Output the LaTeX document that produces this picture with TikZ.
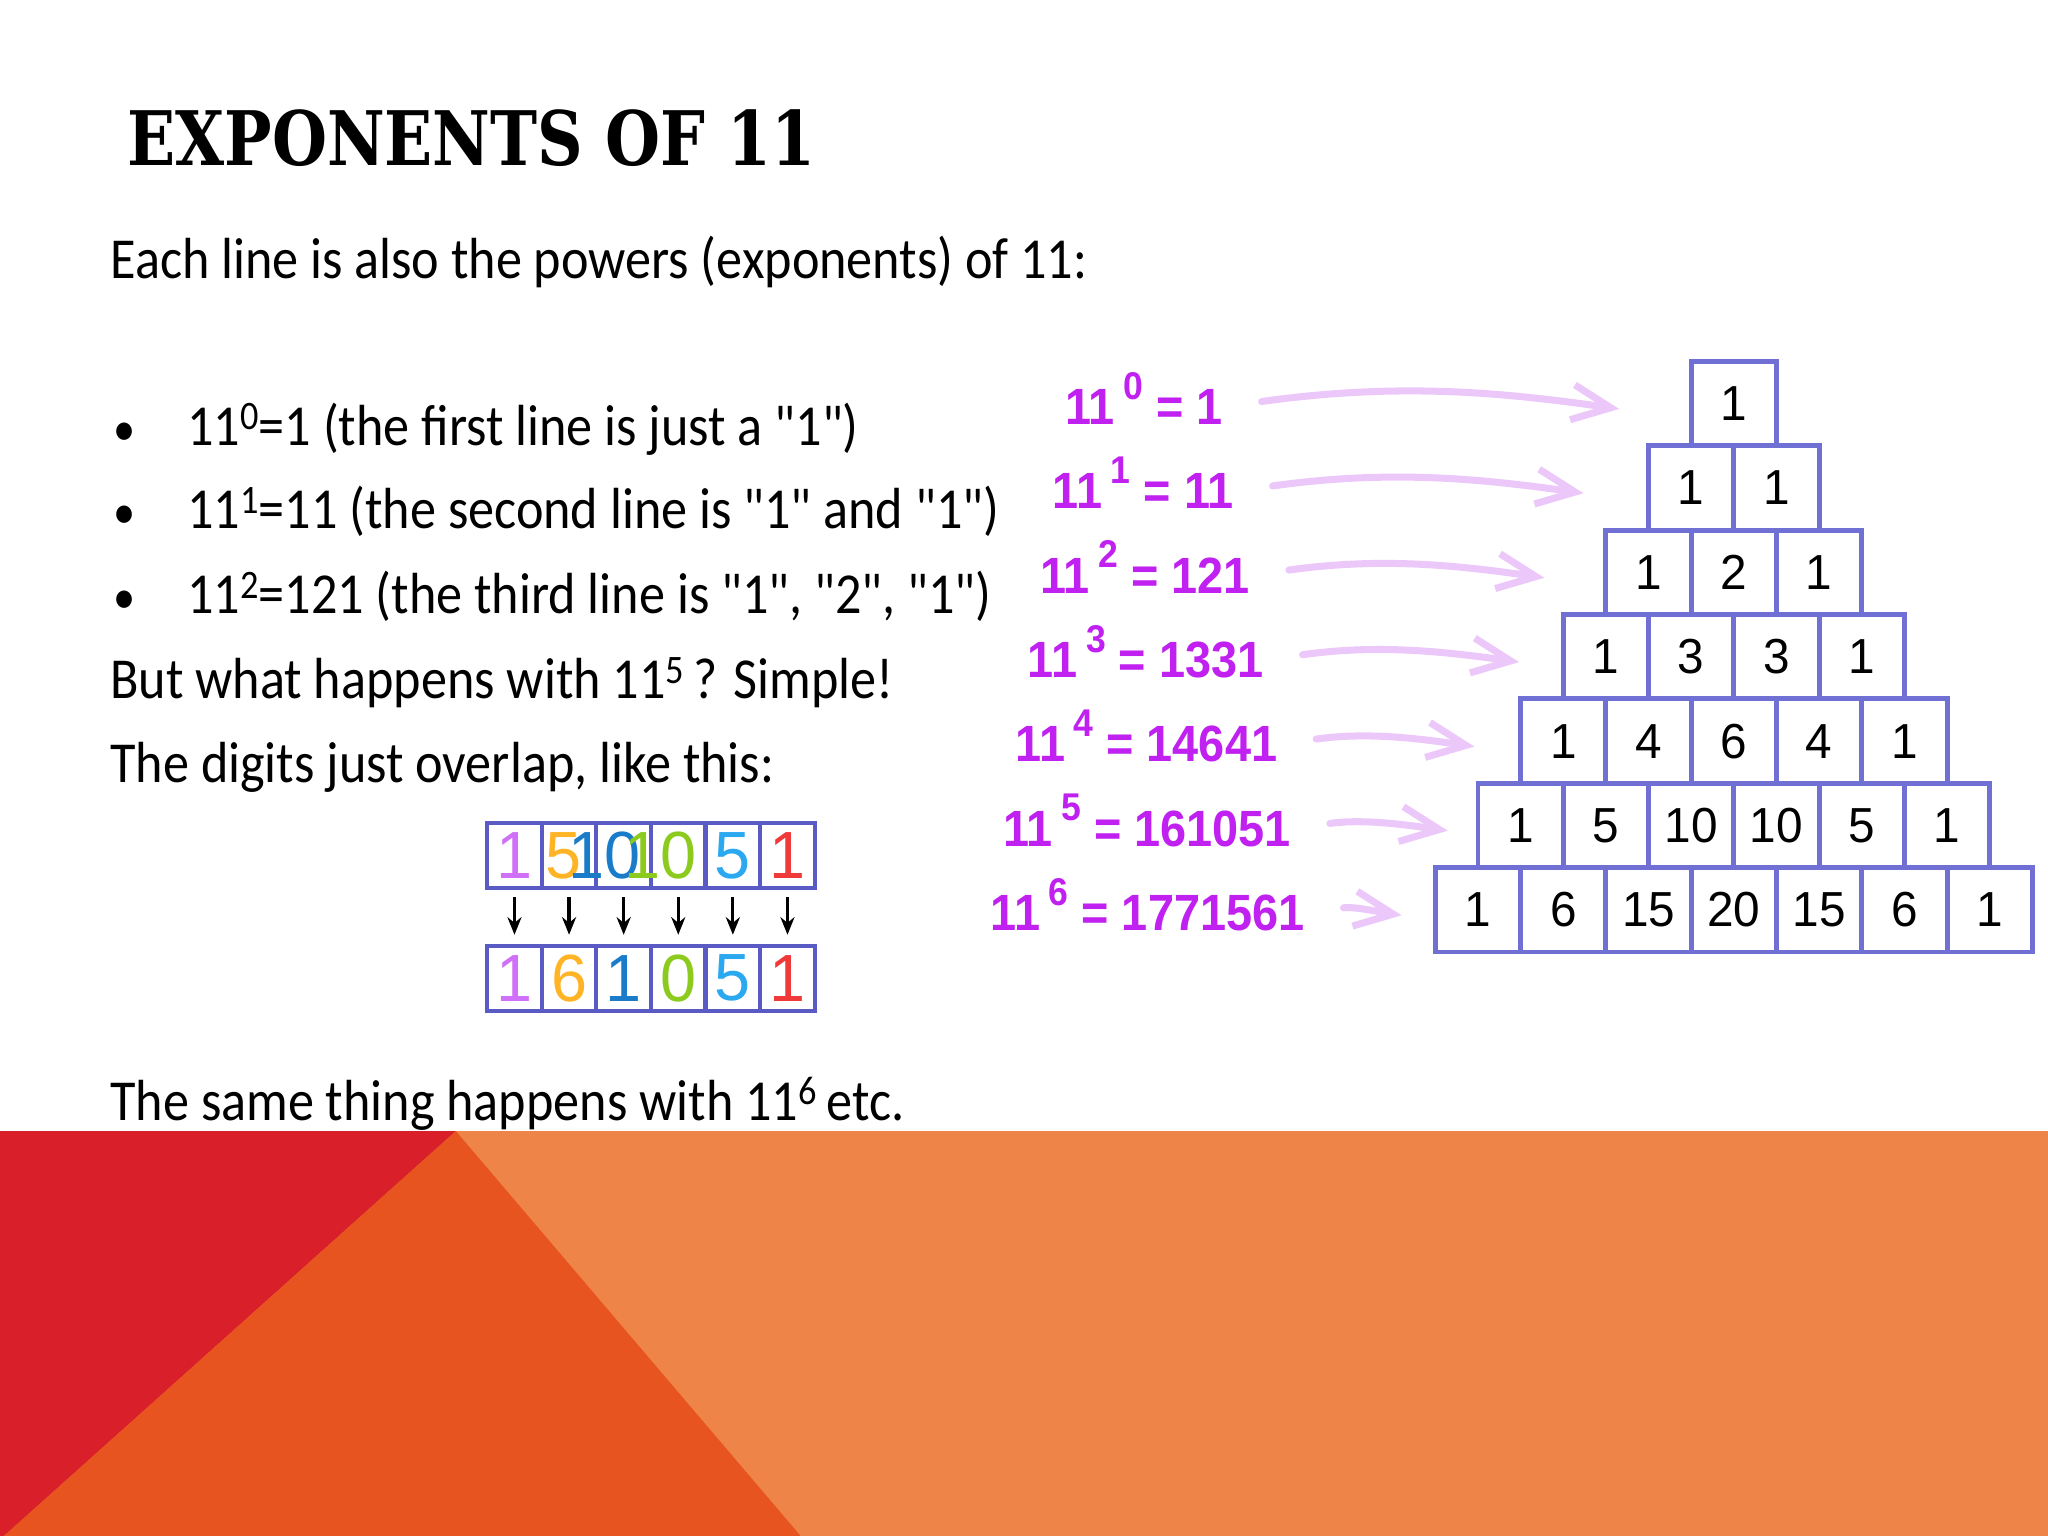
\documentclass[tikz,border=0pt]{standalone}
\usepackage{fontspec}
\newfontfamily\bodyfont{Carlito}[FakeStretch=0.9]
\newfontfamily\titlefont{DejaVu Serif}[FakeStretch=0.84]
\newfontfamily\arialfont{Liberation Sans}[FakeStretch=0.92]
\newfontfamily\cellfont{Liberation Sans}[FakeStretch=0.97]
\usepackage{xcolor}
\usetikzlibrary{arrows.meta}
\definecolor{powmagenta}{RGB}{192,32,240}
\definecolor{powpink}{RGB}{236,200,250}
\definecolor{boxblue}{RGB}{112,112,212}
\definecolor{gridblue}{RGB}{90,90,196}
\definecolor{dviolet}{RGB}{208,112,248}
\definecolor{dorange}{RGB}{255,180,38}
\definecolor{dblue}{RGB}{26,124,200}
\definecolor{dgreen}{RGB}{140,203,30}
\definecolor{dsky}{RGB}{42,168,240}
\definecolor{dred}{RGB}{240,58,58}
\definecolor{bandred}{RGB}{217,32,42}
\definecolor{banddark}{RGB}{232,84,32}
\definecolor{bandlight}{RGB}{239,132,72}
\newcommand{\pw}[1]{\raisebox{0.27em}{\fontsize{11.5}{11.5}\selectfont #1}}
\newcommand{\labpw}[1]{\,\smash{\raisebox{0.5em}{\fontsize{11}{11}\selectfont #1}}}

\begin{document}
\begin{tikzpicture}[x=0.013061cm, y=-0.013061cm,
  title/.style={anchor=base west, inner sep=0, font=\titlefont\bfseries\fontsize{21.4}{24}\selectfont},
  body/.style={anchor=base west, inner sep=0, font=\bodyfont\fontsize{16.5}{20}\selectfont},
  powlab/.style={anchor=base west, inner sep=0, text=powmagenta, font=\arialfont\bfseries\fontsize{14.5}{16}\selectfont},
  powarrow/.style={powpink, line width=2pt, line cap=round, -{Straight Barb[length=11pt, width=10pt]}},
  pcell/.style={draw=boxblue, line width=1.4pt, minimum width=24.27pt, minimum height=24pt, inner sep=0, font=\cellfont\fontsize{14}{14}\selectfont},
  gcell/.style={draw=gridblue, line width=1.2pt, minimum width=15.53pt, minimum height=18.58pt, inner sep=0},
  gdigit/.style={inner sep=0, font=\cellfont\fontsize{19}{19}\selectfont},
  digarrow/.style={black, line width=0.9pt, -{Stealth[length=5pt, width=4pt]}, shorten <=2pt, shorten >=2.5pt}]
  \useasboundingbox (0,0) rectangle (1568,1176);
  \fill[white] (0,0) rectangle (1568,1176);

  % Bottom band
  \fill[bandlight] (0,866) rectangle (1568,1176);
  \fill[bandred] (0,866) -- (349,866) -- (3,1176) -- (0,1176) -- cycle;
  \fill[banddark] (349,866) -- (613,1176) -- (3,1176) -- cycle;

  % Text column
  \node[title] (title) at (97,127) {EXPONENTS OF 11};
  \node[body] (intro) at (84,213) {Each line is also the powers (exponents) of 11:};
  \foreach \y/\txt [count=\i] in {341/{11\pw{0}=1 (the first line is just a "1")},
                                  405/{11\pw{1}=11 (the second line is "1" and "1")},
                                  470/{11\pw{2}=121 (the third line is "1", "2", "1")}} {
    \node[body, font=\bodyfont\fontsize{14}{14}\selectfont] (dot-\i) at (86,\y) {•};
    \node[body] (item-\i) at (143,\y) {\txt};
  }
  \node[body] (ask) at (84,535) {But what happens with 11\pw{5}\,? Simple!};
  \node[body] (overlap) at (84,599) {The digits just overlap, like this:};
  \node[body] (same) at (84,858) {The same thing happens with 11\pw{6}\,etc.};

  % Overlap grid
  \foreach \i in {1,...,6} {
    \node[gcell] (t\i) at ({373+20.9+41.8*(\i-1)},655) {};
    \node[gcell] (b\i) at ({373+20.9+41.8*(\i-1)},749) {};
    \draw[digarrow] (t\i.south) -- (b\i.north);
  }
  \node[gdigit, text=dviolet] at (t1) {1};
  \node[gdigit, text=dorange] at ([xshift=-1.5pt]t2) {5};
  \node[gdigit, text=dblue] at ([xshift=1.6pt]t2.east) {10};
  \node[gdigit, text=dgreen] at ([xshift=2pt]t3.east) {10};
  \node[gdigit, text=dsky] at (t5) {5};
  \node[gdigit, text=dred] at (t6) {1};
  \foreach \i/\d/\c in {1/1/dviolet, 2/6/dorange, 3/1/dblue, 4/0/dgreen, 5/5/dsky, 6/1/dred}
    \node[gdigit, text=\c] at (b\i) {\d};

  % Pyramid of cells
  \foreach \r/\vals in {0/{1}, 1/{1,1}, 2/{1,2,1}, 3/{1,3,3,1}, 4/{1,4,6,4,1},
                        5/{1,5,10,10,5,1}, 6/{1,6,15,20,15,6,1}} {
    \foreach \v [count=\k from 0] in \vals
      \node[pcell] (c-\r-\k) at ({1327.5+(\k-\r/2)*65.3},{309+64.6*\r}) {\v};
  }

  % Powers of 11 with arrows
  \foreach \r/\val/\e/\d in {0/1/20/-4.3, 1/11/18/-4, 2/121/17/-3.9, 3/1331/12/-3.2,
                             4/14641/12.6/-3.3, 5/161051/8/-2.6, 6/1771561/9/-2.8} {
    \node[powlab] (lab-\r) at ({815-9.5*\r},{325+64.6*\r}) {11\labpw{\r}\ =\ \val};
    \draw[powarrow, shorten <=11pt, shorten >=\e pt] (lab-\r.east) to[out=8, in=172] ([yshift=\d pt]c-\r-0.west);
  }
\end{tikzpicture}
\end{document}
